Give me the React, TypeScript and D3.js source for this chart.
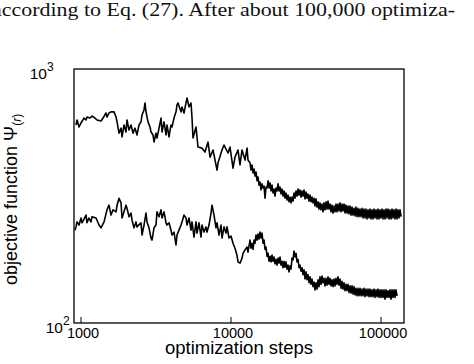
import * as d3 from 'd3';

// (optimization steps vs objective function)
const upperHeadSteps = [
  926, 941, 970, 1000, 1047, 1080, 1096, 1148, 1184, 1240,
  1279, 1360, 1402, 1467, 1490, 1537, 1585, 1660, 1712, 1739,
  1792, 1848, 1877, 1935, 1995, 2026, 2090, 2155, 2222, 2291,
  2362, 2436, 2512, 2551, 2630, 2671, 2712, 2797, 2884, 2929,
  3020, 3067, 3162, 3211, 3312, 3415, 3468, 3576, 3687, 3744,
  3860, 3981, 4042, 4168, 4299, 4365, 4433, 4642, 4714, 4860,
  5011, 5089, 5248, 5412, 5496, 5581, 5843, 6026, 6407, 6709,
  7026, 7244, 7585, 8066, 8191, 8710, 8981, 9551, 9847, 10312,
  10630, 11130, 11480, 11840, 12400, 12790, 12980,
];
const upperHeadPsi = [
  602, 630, 591, 613, 641, 630, 647, 641, 653, 641,
  630, 624, 641, 671, 647, 671, 678, 678, 647, 619,
  559, 585, 540, 602, 565, 630, 575, 602, 559, 585,
  550, 602, 619, 659, 690, 735, 678, 619, 591, 565,
  550, 516, 559, 535, 585, 641, 565, 619, 550, 602,
  540, 602, 591, 641, 678, 722, 735, 678, 709, 671,
  735, 769, 709, 735, 641, 535, 591, 493, 488, 471,
  516, 450, 480, 400, 427, 480, 502, 467, 493, 407,
  450, 480, 419, 480, 438, 488, 438,
];

const lowerHeadSteps = [
  912, 926, 941, 970, 1000, 1015, 1080, 1096, 1130, 1166,
  1184, 1259, 1318, 1360, 1424, 1490, 1537, 1585, 1635, 1712,
  1739, 1793, 1848, 1877, 1935, 1995, 2026, 2090, 2155, 2188,
  2256, 2326, 2362, 2512, 2551, 2630, 2712, 2754, 2840, 2929,
  2974, 3067, 3162, 3211, 3312, 3415, 3468, 3576, 3687, 3744,
  3861, 3981, 4042, 4168, 4298, 4365, 4501, 4642, 4714, 4861,
  5012, 5089, 5248, 5412, 5495, 5667, 5843, 5934, 6119, 6310,
  6407, 6607, 6813, 6918, 7134, 7356, 7470, 7703, 7943, 8066,
  8318, 8577, 8710, 8981, 9261, 9405, 9698, 10000, 10310, 10630,
  10960, 11130, 11480, 11840, 12020, 12400, 12790, 12980,
];
const lowerHeadPsi = [
  232, 239, 250, 243, 259, 248, 266, 248, 259, 250,
  262, 259, 243, 237, 250, 279, 291, 266, 279, 274,
  291, 310, 297, 259, 274, 291, 283, 262, 271, 254,
  237, 250, 239, 248, 222, 243, 271, 250, 237, 216,
  212, 237, 243, 274, 262, 279, 259, 274, 248, 243,
  248, 232, 222, 228, 203, 222, 232, 243, 250, 266,
  259, 243, 259, 232, 250, 218, 250, 226, 248, 218,
  243, 228, 239, 228, 243, 271, 291, 266, 237, 248,
  222, 243, 216, 239, 226, 239, 216, 220, 206, 197,
  185, 174, 172, 180, 188, 194, 199, 190,
];

// from ~13000 steps on both runs are sampled densely (the curves turn into a noisy band)
const midSteps = [
  13390, 13600, 13810, 14020, 14240, 14450, 14680, 14900, 15130, 15370,
  15610, 15850, 16100, 16350, 16600, 16860, 17120, 17390, 17660, 17930,
  18200, 18480, 18770, 19060, 19350, 19650, 19950, 20260, 20580, 20900,
  21220, 21550, 21880, 22220, 22560, 22910, 23260, 23620, 23990, 24360,
  24740, 25120, 25510, 25900, 26300, 26710, 27120, 27540, 27970, 28400,
];
const upperMidPsi = [
  427, 400, 419, 390, 404, 379, 393, 363, 376, 349,
  359, 334, 353, 340, 346, 310, 343, 340, 363, 340,
  356, 331, 349, 325, 337, 316, 340, 331, 353, 331,
  343, 322, 337, 316, 331, 310, 325, 305, 319, 300,
  313, 297, 313, 302, 325, 310, 331, 316, 337, 319,
];
const lowerMidPsi = [
  212, 197, 206, 195, 212, 206, 222, 212, 224, 214,
  228, 216, 226, 206, 212, 195, 199, 183, 188, 175,
  183, 174, 185, 175, 182, 171, 178, 169, 180, 172,
  182, 169, 175, 165, 175, 166, 174, 163, 169, 159,
  168, 163, 180, 177, 192, 182, 188, 174, 178, 165,
];

const tailSteps = [
  28840, 29290, 29740, 30200, 30670, 31140, 31620, 32110, 32610, 33120,
  33630, 34150, 34680, 35220, 35760, 36310, 36870, 37440, 38020, 38610,
  39200, 39810, 40420, 41050, 41680, 42330, 42980, 43650, 44330, 45010,
  45710, 46420, 47140, 47870, 48610, 49350, 50120, 50890, 51680, 52480,
  53290, 54120, 54950, 55800, 56670, 57540, 58430, 59340, 60250, 61190,
  62130, 63100, 64070, 65060, 66070, 67090, 68130, 69180, 70250, 71340,
  72440, 73560, 74700, 75860, 77030, 78220, 79430, 80660, 81910, 83180,
  84460, 85770, 87100, 88440, 89810, 91200, 92610, 94050, 95500, 96980,
  98480, 100000, 101500, 103100, 104700, 106300, 108000, 109600, 111300, 113000,
  114800, 116600, 118400, 120200, 122100, 124000, 125900, 127900, 129800, 131800,
  133900, 136000,
];
const upperTailPsi = [
  334, 313, 331, 316, 334, 308, 328, 310, 322, 302,
  319, 300, 313, 297, 310, 289, 308, 286, 300, 281,
  297, 279, 294, 274, 297, 279, 300, 281, 302, 281,
  294, 274, 291, 271, 289, 274, 294, 274, 294, 276,
  297, 274, 294, 276, 294, 271, 291, 271, 289, 269,
  289, 266, 286, 266, 283, 264, 286, 262, 283, 262,
  281, 262, 283, 259, 281, 259, 281, 257, 279, 259,
  281, 257, 279, 257, 281, 259, 279, 257, 281, 257,
  279, 259, 281, 257, 279, 257, 281, 259, 281, 257,
  279, 257, 281, 259, 279, 257, 281, 257, 279, 259,
  279, 262,
];
const lowerTailPsi = [
  169, 160, 165, 155, 162, 149, 159, 148, 155, 144,
  152, 142, 149, 139, 145, 135, 144, 136, 148, 139,
  152, 142, 153, 144, 150, 140, 150, 141, 152, 142,
  150, 140, 148, 139, 149, 140, 150, 142, 152, 141,
  149, 137, 146, 136, 144, 134, 142, 134, 142, 132,
  140, 131, 140, 130, 139, 129, 137, 128, 137, 128,
  137, 128, 136, 128, 137, 127, 136, 128, 136, 127,
  136, 127, 135, 127, 136, 126, 135, 127, 136, 126,
  135, 126, 135, 126, 135, 124, 135, 126, 134, 126,
  135, 124, 135, 126, 135, 126, 135, 128,
];

const xTickValues = [1000, 10000, 100000];
const xTickLabels = ['1000', '10000', '100000'];
const yTickValues = [1000, 100];
const yTickExponents = ['3', '2'];
const caption = 'according to Eq. (27). After about 100,000 optimiza-';

const width = 474;
const height = 364;
const sans = "'Liberation Sans', Arial, Helvetica, sans-serif";

const x = d3.scaleLog().domain([898, 142300]).range([74, 404]);
const y = d3.scaleLog().domain([100, 1000]).range([323, 69]);

const line = d3
  .line<[number, number]>()
  .x((d) => x(d[0]))
  .y((d) => y(d[1]));

export default function App() {
  const upperSteps = [...upperHeadSteps, ...midSteps, ...tailSteps.slice(0, upperTailPsi.length)];
  const upperPsi = [...upperHeadPsi, ...upperMidPsi, ...upperTailPsi];
  const lowerSteps = [...lowerHeadSteps, ...midSteps, ...tailSteps.slice(0, lowerTailPsi.length)];
  const lowerPsi = [...lowerHeadPsi, ...lowerMidPsi, ...lowerTailPsi];
  const upper = upperSteps.map((s, i) => [s, upperPsi[i]] as [number, number]);
  const lower = lowerSteps.map((s, i) => [s, lowerPsi[i]] as [number, number]);
  const [x0, x1] = x.range();
  const [yb, yt] = y.range();
  // the 10^2 label sits further right than the 10^3 one
  const yLabelRight = [x0 - 27, x0 - 11];

  return (
    <div style={{ position: 'fixed', left: 0, top: 0 }}>
      <svg width={width} height={height} style={{ display: 'block', background: '#fff' }}>
        <text
          x={-8}
          y={16}
          fontFamily="'Liberation Serif', 'Times New Roman', serif"
          fontSize={19.5}
          textLength={463}
          lengthAdjust="spacingAndGlyphs"
          fill="#111"
        >
          {caption}
        </text>

        <path d={line(upper) ?? ''} fill="none" stroke="#000" strokeWidth={1.6} strokeLinejoin="round" />
        <path d={line(lower) ?? ''} fill="none" stroke="#000" strokeWidth={1.6} strokeLinejoin="round" />

        <rect x={x0} y={yt} width={x1 - x0} height={yb - yt} fill="none" stroke="#000" strokeWidth={1.3} />

        {xTickValues.map((v, i) => (
          <g key={v}>
            <line x1={x(v)} x2={x(v)} y1={yb} y2={yb - 6} stroke="#000" strokeWidth={1} />
            <text x={x(v) + 2} y={yb + 14.5} textAnchor="middle" fontFamily={sans} fontSize={14.5}>
              {xTickLabels[i]}
            </text>
          </g>
        ))}

        {yTickValues.map((v, i) => (
          <g key={v} fontFamily={sans}>
            <text x={yLabelRight[i]} y={y(v) + 10} textAnchor="end" fontSize={15.5}>
              10
            </text>
            <text x={yLabelRight[i]} y={y(v) + 1.5} fontSize={12}>
              {yTickExponents[i]}
            </text>
          </g>
        ))}

        <text x={(x0 + x1) / 2} y={354} textAnchor="middle" fontFamily={sans} fontSize={18.5}>
          optimization steps
        </text>

        <text transform="translate(17,285) rotate(-90)" fontFamily={sans} fontSize={18}>
          objective function Ψ
          <tspan fontSize={12} dy={4}>
            (
          </tspan>
          <tspan fontSize={12} fontStyle="italic">
            r
          </tspan>
          <tspan fontSize={12}>)</tspan>
        </text>
      </svg>
    </div>
  );
}
